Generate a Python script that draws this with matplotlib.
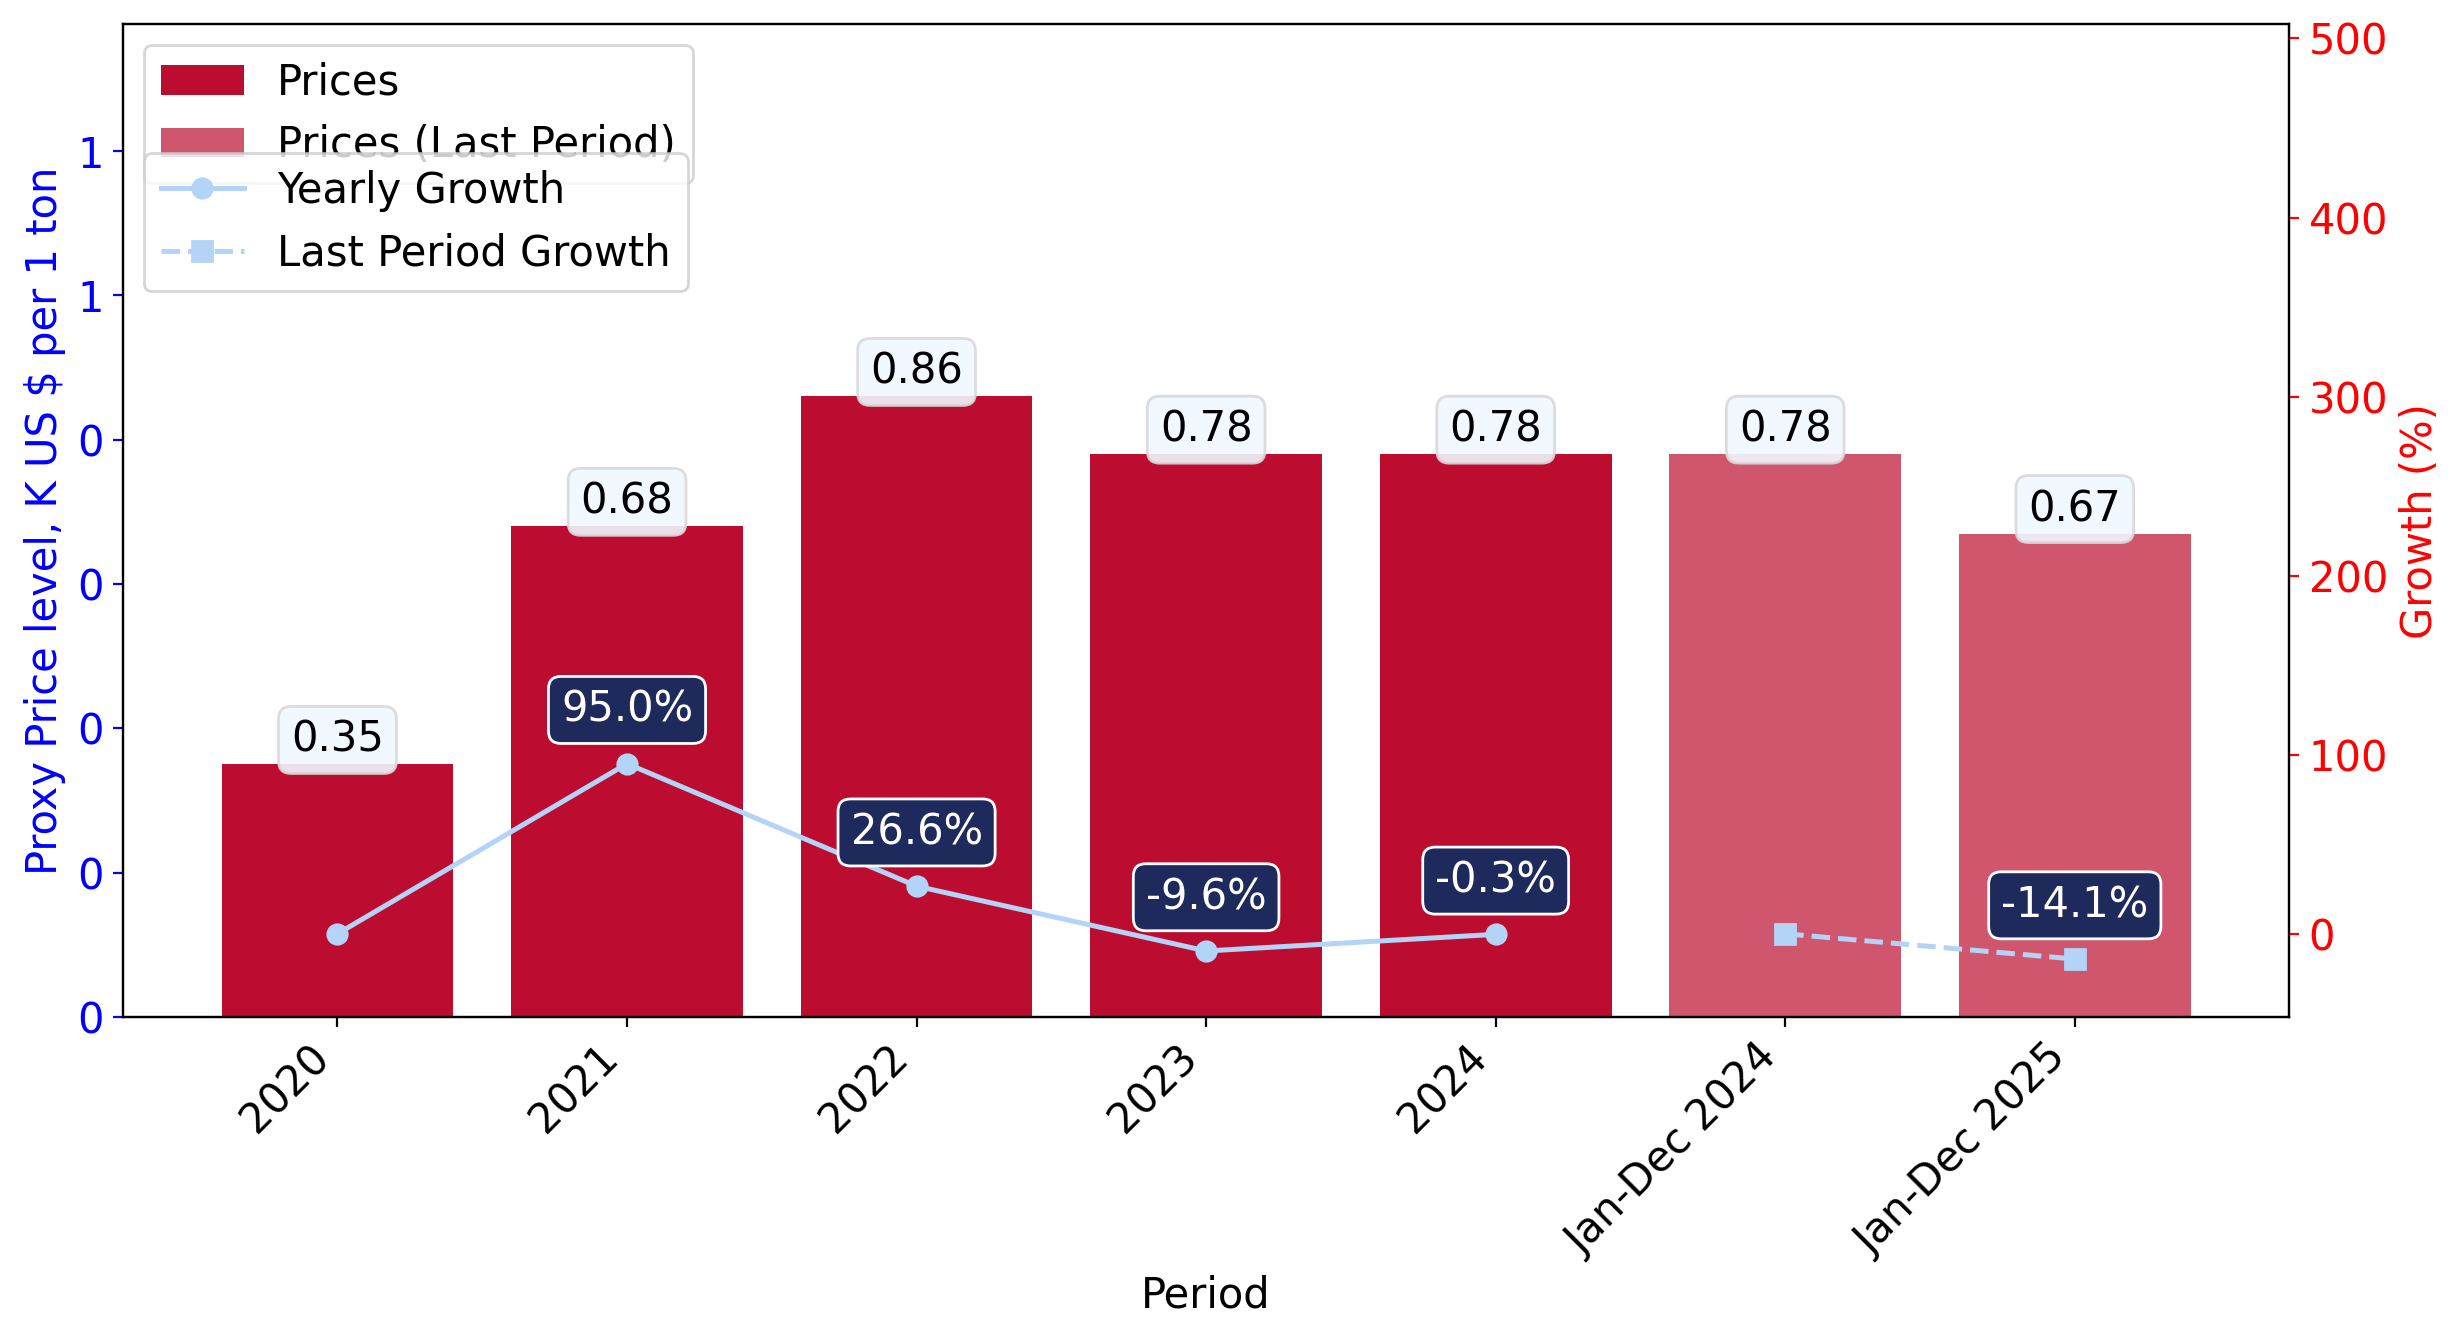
import matplotlib.pyplot as plt
from matplotlib.ticker import FuncFormatter

periods = ['2020', '2021', '2022', '2023', '2024', 'Jan-Dec 2024', 'Jan-Dec 2025']
prices = [0.35, 0.68, 0.86, 0.78, 0.78, 0.78, 0.67]
is_last = [False, False, False, False, False, True, True]
yearly_growth = [0.0, 95.0, 26.6, -9.6, -0.3]
last_growth = [0.0, -14.1]
show_label = [False, True, True, True, True]
show_last_label = [False, True]

plt.rcParams['font.size'] = 15

fig, ax1 = plt.subplots(figsize=(12.32, 6.7), dpi=200)
x = list(range(len(periods)))

bar_col = '#BC0D31'
last_col = '#D0566E'
line_col = '#B3D4F7'

hist_x = [i for i in x if not is_last[i]]
last_x = [i for i in x if is_last[i]]
ax1.bar(hist_x, [prices[i] for i in hist_x], width=0.8, color=bar_col, label='Prices')
ax1.bar(last_x, [prices[i] for i in last_x], width=0.8, color=last_col, label='Prices (Last Period)')

for i in x:
    ax1.text(i, prices[i] + 0.034, f'{prices[i]:.2f}', ha='center', va='center', fontsize=15,
             bbox=dict(boxstyle='round,pad=0.3', facecolor='#F0F8FF', edgecolor='#D9D9D9', alpha=0.9))

ax1.set_ylim(0, 1.376)
ax1.yaxis.set_major_formatter(FuncFormatter(lambda v, p: f'{int(v)}'))
ax1.set_ylabel('Proxy Price level, K US $ per 1 ton', color='blue', fontsize=15)
ax1.tick_params(axis='y', colors='blue', labelsize=15)
ax1.set_xlabel('Period', fontsize=15)
ax1.set_xticks(x)
ax1.set_xticklabels(periods, rotation=45, ha='right', fontsize=15)
ax1.legend(loc='upper left', fontsize=15)

ax2 = ax1.twinx()
ax2.plot(hist_x, yearly_growth, color=line_col, marker='o', linewidth=1.8, markersize=7, label='Yearly Growth')
ax2.plot(last_x, last_growth, color=line_col, marker='s', linestyle='--', linewidth=1.8, markersize=7,
         label='Last Period Growth')

box = dict(boxstyle='round,pad=0.3', facecolor='#1F2A5C', edgecolor='white')
for i, g, s in zip(hist_x, yearly_growth, show_label):
    if s:
        ax2.text(i, g + 30, f'{g:.1f}%', ha='center', va='center', color='white', fontsize=15, bbox=box)
for i, g, s in zip(last_x, last_growth, show_last_label):
    if s:
        ax2.text(i, g + 30, f'{g:.1f}%', ha='center', va='center', color='white', fontsize=15, bbox=box)

ax2.set_ylim(-46.5, 508)
ax2.set_ylabel('Growth (%)', color='red', fontsize=15)
ax2.tick_params(axis='y', colors='red', labelsize=15)
ax2.legend(loc='upper left', bbox_to_anchor=(0, 0.891), fontsize=15)

plt.subplots_adjust(left=0.05, right=0.929, top=0.982, bottom=0.241)
plt.savefig('out.png', dpi=200)
